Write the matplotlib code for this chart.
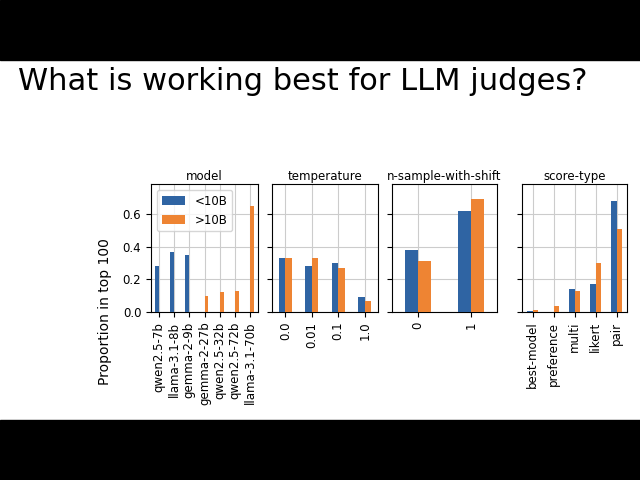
import matplotlib
matplotlib.use("Agg")
import matplotlib.pyplot as plt
import numpy as np

models = ["qwen2.5-7b", "llama-3.1-8b", "gemma-2-9b", "gemma-2-27b", "qwen2.5-32b", "qwen2.5-72b", "llama-3.1-70b"]
model_small = [0.28, 0.37, 0.35, 0, 0, 0, 0]
model_large = [0, 0, 0, 0.10, 0.12, 0.13, 0.65]
temps = ["0.0", "0.01", "0.1", "1.0"]
temp_small = [0.33, 0.28, 0.30, 0.09]
temp_large = [0.33, 0.33, 0.27, 0.07]
nshift = ["0", "1"]
nshift_small = [0.38, 0.62]
nshift_large = [0.31, 0.69]
scores = ["best-model", "preference", "multi", "likert", "pair"]
score_small = [0.005, 0, 0.14, 0.17, 0.68]
score_large = [0.015, 0.035, 0.13, 0.30, 0.51]

W, H = 640, 480
fig = plt.figure(figsize=(6.4, 4.8), dpi=100)
fig.patches.append(plt.Rectangle((0, 0), 1, 60/H, transform=fig.transFigure, color="black", zorder=-1))
fig.patches.append(plt.Rectangle((0, 1-60/H), 1, 60/H, transform=fig.transFigure, color="black", zorder=-1))
fig.text(18/W, 1-82/H, "What is working best for LLM judges?", fontsize=22, va="center", ha="left")

blue, orange = "#2f64a3", "#ee8433"
panels = [("model", models, model_small, model_large, 151, 258),
          ("temperature", temps, temp_small, temp_large, 272, 378),
          ("n-sample-with-shift", nshift, nshift_small, nshift_large, 392, 497),
          ("score-type", scores, score_small, score_large, 522, 627)]
top, bot = 184, 312
for i, (title, cats, s, l, x0, x1) in enumerate(panels):
    ax = fig.add_axes([x0/W, 1-bot/H, (x1-x0)/W, (bot-top)/H])
    x = np.arange(len(cats))
    w = 0.25
    ax.bar(x - w/2, s, w, color=blue, label="<10B", zorder=3)
    ax.bar(x + w/2, l, w, color=orange, label=">10B", zorder=3)
    ax.set_xticks(x)
    ax.set_xticklabels(cats, rotation=90, fontsize=8.5)
    ax.set_xlim(-0.5, len(cats)-0.5)
    ax.set_ylim(0, 0.785)
    ax.set_yticks([0, 0.2, 0.4, 0.6])
    ax.grid(True, color="#cccccc", zorder=0)
    ax.set_title(title, fontsize=8.5, pad=3)
    ax.tick_params(labelsize=8.5)
    if i == 0:
        ax.set_ylabel("Proportion in top 100", fontsize=10)
        ax.yaxis.set_label_coords(-0.36, 0.0, transform=ax.transAxes)
        ax.yaxis.label.set_va("bottom")
        ax.legend(loc="upper left", fontsize=8.5)
    else:
        ax.set_yticklabels([])
fig.savefig("out.png", dpi=100)
